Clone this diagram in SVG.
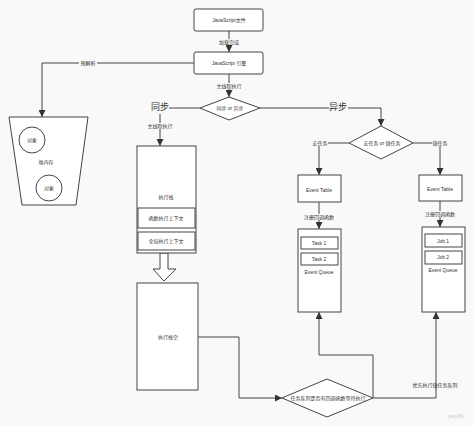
<svg xmlns="http://www.w3.org/2000/svg" width="474" height="426" viewBox="0 0 474 426">
<defs>
<marker id="ah" viewBox="0 0 10 10" refX="10" refY="5" markerWidth="7" markerHeight="7" markerUnits="userSpaceOnUse" orient="auto">
<path d="M0,0 L10,5 L0,10 z" fill="#333"/>
</marker>
<style>
.s{fill:#fff;stroke:#444;stroke-width:1}
.l{fill:none;stroke:#444;stroke-width:1}
.t{font-family:"Liberation Sans","Noto Sans CJK SC",sans-serif;font-size:5px;fill:#333;text-anchor:middle;dominant-baseline:central}
.lb{font-family:"Liberation Sans","Noto Sans CJK SC",sans-serif;font-size:5px;fill:#333;text-anchor:middle;dominant-baseline:central}
.big{font-family:"Liberation Sans","Noto Sans CJK SC",sans-serif;font-size:9px;fill:#333;text-anchor:middle;dominant-baseline:central}
</style>
</defs>
<rect width="474" height="426" fill="#f9f9f9"/>
<g id="connectors">
<line class="l" x1="229" y1="31" x2="229" y2="52" marker-end="url(#ah)"/>
<polyline class="l" points="194,63 42,63 42,117" marker-end="url(#ah)"/>
<line class="l" x1="229" y1="74" x2="229" y2="97" marker-end="url(#ah)"/>
<line class="l" x1="200" y1="108" x2="169" y2="108"/>
<line class="l" x1="160" y1="114" x2="160" y2="146" marker-end="url(#ah)"/>
<line class="l" x1="260" y1="108" x2="329" y2="108"/>
<polyline class="l" points="348,108 381,108 381,126" marker-end="url(#ah)"/>
<polyline class="l" points="349,143 319,143 319,175" marker-end="url(#ah)"/>
<polyline class="l" points="413,143 440,143 440,175" marker-end="url(#ah)"/>
<line class="l" x1="319" y1="202" x2="319" y2="229" marker-end="url(#ah)"/>
<line class="l" x1="440" y1="201" x2="440" y2="227" marker-end="url(#ah)"/>
<polyline class="l" points="198,337 239,337 239,398 282,398" marker-end="url(#ah)"/>
<polyline class="l" points="373,398 373,355 319,355 319,312" marker-end="url(#ah)"/>
<polyline class="l" points="373,398 436,398 436,312" marker-end="url(#ah)"/>
<path class="s" d="M160,253 L168,253 L168,269 L176,269 L164,281 L153,269 L160,269 Z"/>
<rect x="79" y="60" width="18" height="6" fill="#f9f9f9"/>
<text class="lb" x="88" y="63">预解析</text>
<rect x="218" y="39" width="22" height="6" fill="#f9f9f9"/>
<text class="lb" x="229" y="42">加载完成</text>
<rect x="216" y="83" width="26" height="6" fill="#f9f9f9"/>
<text class="lb" x="229" y="86">主线程执行</text>
<text class="big" x="160" y="107">同步</text>
<rect x="147" y="123" width="26" height="6" fill="#f9f9f9"/>
<text class="lb" x="160" y="126">主线程执行</text>
<text class="big" x="338" y="107">异步</text>
<rect x="312" y="140" width="16" height="6" fill="#f9f9f9"/>
<text class="lb" x="320" y="143">宏任务</text>
<rect x="432" y="140" width="16" height="6" fill="#f9f9f9"/>
<text class="lb" x="440" y="143">微任务</text>
<rect x="304" y="214" width="30" height="6" fill="#f9f9f9"/>
<text class="lb" x="319" y="217">注册回调函数</text>
<rect x="425" y="211" width="30" height="6" fill="#f9f9f9"/>
<text class="lb" x="440" y="214">注册回调函数</text>
<text class="lb" x="435" y="385">优先执行微任务队列</text>
</g>
<g id="js-file">
<rect class="s" x="194" y="9" width="69" height="22" rx="2"/>
<text class="t" x="229" y="20">JavaScript文件</text>
</g>
<g id="js-engine">
<rect class="s" x="194" y="52" width="69" height="22" rx="2"/>
<text class="t" x="229" y="63">JavaScript 引擎</text>
</g>
<g id="sync-async">
<polygon class="s" points="229,97 260,108 229,120 200,108"/>
<text class="t" x="230" y="108">同步 or 异步</text>
</g>
<g id="heap">
<polygon class="s" points="9,117 88,117 76,205 22,205"/>
<circle class="s" cx="32" cy="140" r="13"/>
<text class="t" x="32" y="140">对象</text>
<circle class="s" cx="49" cy="188" r="13"/>
<text class="t" x="49" y="188">对象</text>
<text class="t" x="46" y="162">堆内存</text>
</g>
<g id="exec-stack">
<rect class="s" x="137" y="146" width="59" height="107"/>
<text class="t" x="166" y="197">执行栈</text>
<rect class="s" x="138" y="208" width="57" height="20"/>
<text class="t" x="166" y="218">函数执行上下文</text>
<rect class="s" x="138" y="232" width="57" height="18"/>
<text class="t" x="166" y="241">全局执行上下文</text>
</g>
<g id="exec-empty">
<rect class="s" x="137" y="283" width="61" height="107"/>
<text class="t" x="168" y="337">执行栈空</text>
</g>
<g id="macro-micro">
<polygon class="s" points="381,126 413,143 381,159 349,143"/>
<text class="t" x="382" y="143">宏任务 or 微任务</text>
</g>
<g id="event-table-left">
<rect class="s" x="298" y="175" width="43" height="27"/>
<text class="t" x="319" y="190">Event Table</text>
</g>
<g id="event-table-right">
<rect class="s" x="419" y="175" width="43" height="26"/>
<text class="t" x="440" y="189">Event Table</text>
</g>
<g id="event-queue-left">
<rect class="s" x="298" y="229" width="43" height="83"/>
<rect class="s" x="301" y="237" width="37" height="12"/>
<text class="t" x="319" y="243">Task 1</text>
<rect class="s" x="301" y="253" width="37" height="12"/>
<text class="t" x="319" y="259">Task 2</text>
<text class="t" x="319" y="272">Event Queue</text>
</g>
<g id="event-queue-right">
<rect class="s" x="422" y="227" width="43" height="85"/>
<rect class="s" x="425" y="234" width="37" height="13"/>
<text class="t" x="443" y="241">Job 1</text>
<rect class="s" x="425" y="251" width="37" height="13"/>
<text class="t" x="443" y="257">Job 2</text>
<text class="t" x="443" y="270">Event Queue</text>
</g>
<g id="queue-check">
<polygon class="s" points="327,379 373,398 327,417 282,398"/>
<text class="t" x="328" y="398">任务队列是否有回调函数等待执行</text>
</g>
<text x="456" y="418" font-family="Liberation Sans, sans-serif" font-size="5" fill="#ccc" text-anchor="middle">playlife</text>
</svg>
